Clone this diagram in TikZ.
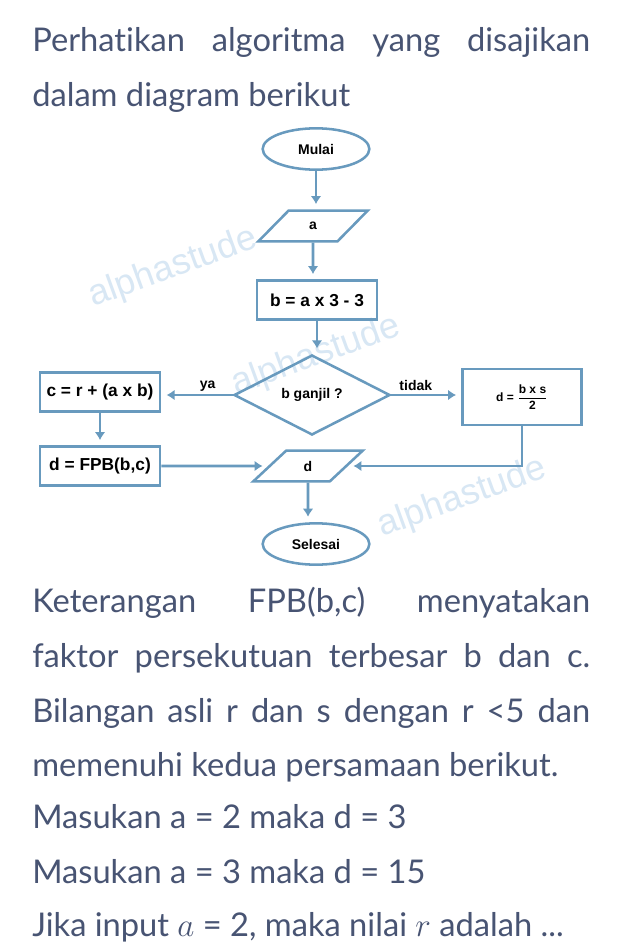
\documentclass[tikz,border=0pt]{standalone}
\usepackage{fontspec}
\setmainfont{Lato}[Ligatures={NoCommon,NoRequired,NoContextual}]
\newfontfamily\arial{Liberation Sans}
\usetikzlibrary{shapes.geometric,arrows.meta}
\definecolor{alur}{RGB}{104,154,190}
\definecolor{teks}{RGB}{72,84,115}
\definecolor{tanda}{RGB}{216,231,244}

\begin{document}
\begin{tikzpicture}[x=0.75pt,y=-0.75pt]

      \tikzset{garis/.style={draw=alur, line width=1.9pt},
      terminal/.style={garis, ellipse, minimum width=80pt, minimum height=31pt, inner sep=0pt, font=\arial\bfseries\fontsize{10.5}{12}\selectfont},
      proses/.style={garis, rectangle, minimum width=90pt, minimum height=29pt, inner sep=0pt, font=\arial\bfseries\fontsize{13}{15}\selectfont},
      io/.style={garis, trapezium, trapezium left angle=58, trapezium right angle=122, trapezium stretches=true, minimum width=82pt, minimum height=23pt, inner sep=0pt, font=\arial\bfseries\fontsize{10.5}{12}\selectfont},
      keputusan/.style={garis, diamond, minimum width=117pt, minimum height=60pt, inner sep=0pt, font=\arial\bfseries\fontsize{10.5}{12}\selectfont},
      panah/.style={alur, line width=1.9pt, -{Latex[length=6pt,width=8pt]}, shorten >=4pt},
      cabang/.style={text=black, font=\arial\bfseries\fontsize{10.5}{12}\selectfont, inner sep=2pt},
      baris/.style={anchor=base west, inner sep=0pt, text=teks, font=\fontsize{24.5}{28}\selectfont},
      watermark/.style={text=tanda, rotate=20, inner sep=0pt, font=\arial\fontsize{27}{30}\selectfont}}

	\fill[white] (0,0) rectangle (634,952);
	\useasboundingbox (0,0) rectangle (634,952);
% Teks atas
	\node[baris] (t1) at (32,52) {\makebox[418.5pt][s]{Perhatikan algoritma yang disajikan}};
	\node[baris] (t2) at (32,107) {dalam diagram berikut};
% Tanda air
	\node[watermark] (wm1) at (173,268) {alphastude};
	\node[watermark] (wm2) at (316,356) {alphastude};
	\node[watermark] (wm3) at (462,498) {alphastude};
% Simpul
	%Kolom tengah
	\node[terminal] (mulai) at (316,149) {Mulai};
	\node[io] (inA) at (313,226) {a};
	\node[proses] (hitungB) at (317,300) {b = a x 3 - 3};
	\node[keputusan] (cek) at (312,395) {b ganjil ?};
	\node[io] (outD) at (308,466) {d};
	\node[terminal] (selesai) at (316,544) {Selesai};
	%Cabang ya
	\node[proses] (hitungC) at (100,392) {c = r + (a x b)};
	\node[proses] (fpb) at (100,466) {d = FPB(b,c)};
	%Cabang tidak
	\node[proses, minimum width=89pt, minimum height=42pt, font=\arial\bfseries\fontsize{9}{10}\selectfont] (hitungD) at (522,397) {d = $\displaystyle\frac{\mbox{b x s}}{\mbox{2}}$};
% Panah
	\draw[panah] (mulai) -- (mulai |- inA.north);
	\draw[panah] (inA) -- (inA |- hitungB.north);
	\draw[panah] (hitungB) -- (hitungB |- cek.north);
	\draw[panah] (cek.west) -- node[cabang, above, pos=0.35] (ya) {ya} (cek.west -| hitungC.east);
	\draw[panah] (cek.east) -- node[cabang, above, pos=0.35] (tidak) {tidak} (cek.east -| hitungD.west);
	\draw[panah] (hitungC) -- (hitungC |- fpb.north);
	\draw[panah] (fpb) -- (outD);
	\draw[panah] (hitungD.south) |- (outD);
	\draw[panah] (outD) -- (outD |- selesai.north);
% Teks bawah
	\node[baris] (t3) at (32,612) {\makebox[418.5pt][s]{Keterangan FPB(b,c) menyatakan}};
	\node[baris] (t4) at (32,667) {\makebox[418.5pt][s]{faktor persekutuan terbesar b dan c.}};
	\node[baris] (t5) at (32,722) {\makebox[418.5pt][s]{Bilangan asli r dan s dengan r <5 dan}};
	\node[baris] (t6) at (32,776) {memenuhi kedua persamaan berikut.};
	\node[baris] (t7) at (32,828) {Masukan a = 2 maka d = 3};
	\node[baris] (t8) at (32,883) {Masukan a = 3 maka d = 15};
	\node[baris] (t9) at (32,936) {Jika input $a$ = 2, maka nilai $r$ adalah ...};

\end{tikzpicture}
\end{document}
